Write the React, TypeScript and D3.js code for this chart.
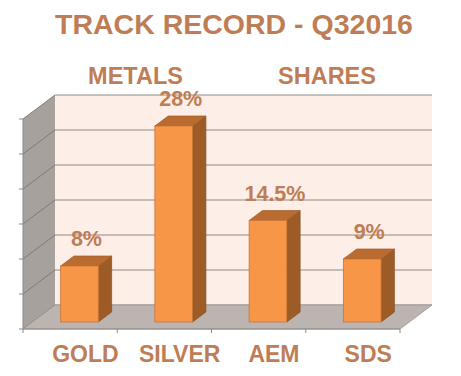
import React from "react";
import * as d3 from "d3";

const categories = ["GOLD", "SILVER", "AEM", "SDS"];
const values = [8, 28, 14.5, 9];
const valueLabels = ["8%", "28%", "14.5%", "9%"];
const groupLabels = ["METALS", "SHARES"];
const title = "TRACK RECORD - Q32016";
const yDomain = [0, 30];
const yTicks = [0, 5, 10, 15, 20, 25, 30];

const W = 461;
const H = 376;
const X0 = 23;
const X1 = 400;
const Y0 = 329;
const Y1 = 119;
const DX = 32;
const DY = -24;
const F_FRONT = 7 / 24;
const F_BACK = 17 / 24;

const TEXT = "#bf7d55";
const FONT = "'Liberation Sans', Arial, sans-serif";

export default function App() {
  const y = d3.scaleLinear().domain(yDomain).range([Y0, Y1]);
  const band = d3.scaleBand().domain(categories).range([X0, X1]).paddingInner(0.6).paddingOuter(0.3);
  const cat = d3.scaleBand().domain(categories).range([X0, X1]).padding(0);
  const off = (f: number) => [DX * f, DY * f];
  const pts = (a: number[][]) => a.map((p) => p.join(",")).join(" ");

  const [bx, by] = off(1);
  const [fx, fy] = off(F_FRONT);
  const [kx, ky] = off(F_BACK);

  return (
    <svg width={W} height={H} style={{ position: "absolute", left: 0, top: 0, background: "#fff" }}>
      {/* back wall */}
      <rect x={X0 + bx} y={y(yDomain[1]) + by} width={X1 - X0} height={Y0 - Y1} fill="#fdeee7" />
      {yTicks.map((t) => (
        <line key={"bg" + t} x1={X0 + bx} x2={X1 + bx} y1={y(t) + by} y2={y(t) + by} stroke="#8e8a88" strokeWidth={1} />
      ))}
      {/* left wall */}
      <polygon points={pts([[X0, Y1], [X0 + bx, Y1 + by], [X0 + bx, Y0 + by], [X0, Y0]])} fill="#a7a19d" />
      {yTicks.map((t) => (
        <line key={"lg" + t} x1={X0} y1={y(t)} x2={X0 + bx} y2={y(t) + by} stroke="#7f7b79" strokeWidth={1} />
      ))}
      {/* floor */}
      <polygon points={pts([[X0, Y0], [X1, Y0], [X1 + bx, Y0 + by], [X0 + bx, Y0 + by]])} fill="#bcb4b0" stroke="#9a9490" strokeWidth={0.8} />
      {/* bars */}
      {categories.map((c, i) => {
        const xl = band(c)! + fx;
        const xr = xl + band.bandwidth();
        const yb = y(0) + fy;
        const yt = y(values[i]) + fy;
        const dxb = kx - fx;
        const dyb = ky - fy;
        return (
          <g key={c}>
            <polygon points={pts([[xr, yt], [xr + dxb, yt + dyb], [xr + dxb, yb + dyb], [xr, yb]])} fill="#9d5b28" stroke="#8a4f22" strokeWidth={0.7} />
            <polygon points={pts([[xl, yt], [xr, yt], [xr + dxb, yt + dyb], [xl + dxb, yt + dyb]])} fill="#b96b30" stroke="#a25d28" strokeWidth={0.7} />
            <rect x={xl} y={yt} width={xr - xl} height={yb - yt} fill="#f79646" stroke="#c8763a" strokeWidth={0.8} />
            <text x={(xl + xr) / 2 + 7} y={yt + dyb - 10} textAnchor="middle" fontFamily={FONT} fontWeight="bold" fontSize={21.5} fill={TEXT}>
              {valueLabels[i]}
            </text>
            <text x={(xl + xr) / 2 + 6} y={362} textAnchor="middle" fontFamily={FONT} fontWeight="bold" fontSize={23} fill={TEXT}>
              {c}
            </text>
          </g>
        );
      })}
      {/* axes */}
      <line x1={X0} x2={X0} y1={Y1} y2={Y0} stroke="#8e8a88" />
      {yTicks.map((t) => (
        <line key={"yt" + t} x1={X0 - 4} x2={X0} y1={y(t)} y2={y(t)} stroke="#8e8a88" />
      ))}
      <line x1={X0} x2={X1} y1={Y0} y2={Y0} stroke="#8e8a88" />
      {[...categories.map((c) => cat(c)!), X1].map((x, i) => (
        <line key={"xt" + i} x1={x} x2={x} y1={Y0} y2={Y0 + 4} stroke="#8e8a88" />
      ))}
      {/* titles */}
      <text x={234} y={34} textAnchor="middle" fontFamily={FONT} fontWeight="bold" fontSize={28.5} fill={TEXT}>
        {title}
      </text>
      <text x={135.5} y={83.5} textAnchor="middle" fontFamily={FONT} fontWeight="bold" fontSize={23.5} fill={TEXT}>
        {groupLabels[0]}
      </text>
      <text x={327} y={83.5} textAnchor="middle" fontFamily={FONT} fontWeight="bold" fontSize={23.5} fill={TEXT}>
        {groupLabels[1]}
      </text>
    </svg>
  );
}
